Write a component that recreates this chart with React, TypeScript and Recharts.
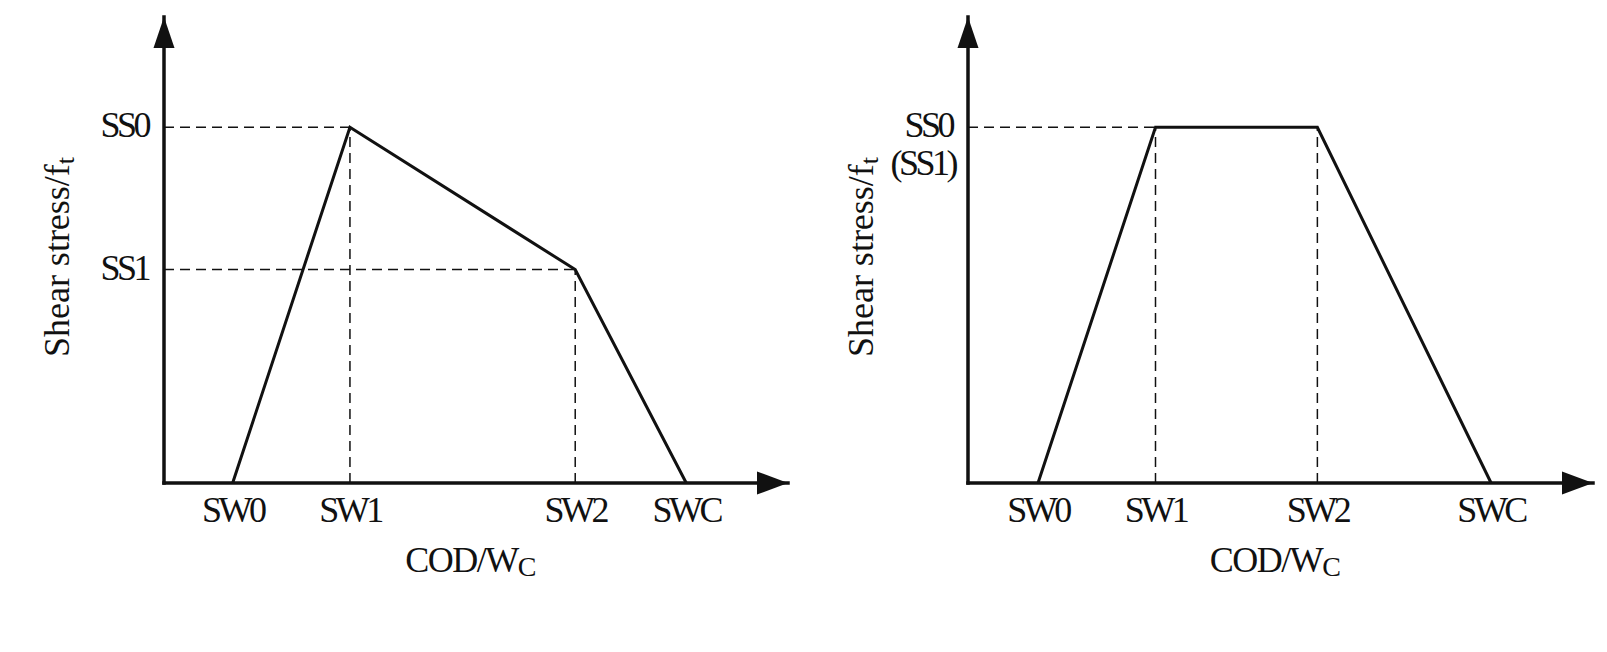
import React from "react";
import { LineChart, Line, XAxis, YAxis, ReferenceLine, ReferenceDot } from "recharts";

// Traction-separation style shear laws, two variants side by side.
// x values in COD/Wc units (axis runs 0..X_MAX), y values in shear stress / ft.
const X_MAX = 10;
const Y_MAX = 1.31;

const SW_LABELS = ["SW0", "SW1", "SW2", "SWC"];

// left: bilinear softening after the peak
const LEFT_SW = [1.1, 2.98, 6.59, 8.37];
const LEFT_SS = [1.0, 0.6]; // SS0, SS1
const LEFT_SS_LABELS = [["SS0"], ["SS1"]];

// right: plateau, SS1 equals SS0
const RIGHT_SW = [1.12, 3.0, 5.59, 8.37];
const RIGHT_SS = [1.0, 1.0];
const RIGHT_SS_LABELS = [["SS0", "(SS1)"]];

const INK = "#111";
const FONT = "'Liberation Serif', 'Times New Roman', serif";
const AXIS_STYLE = { stroke: INK, strokeWidth: 3.5, strokeLinecap: "square" as const };

const XTick = (props: any) => {
  const { x, y, payload, values } = props;
  const i = values.indexOf(payload.value);
  return (
    <text x={x} y={y + 39} textAnchor="middle" fill={INK} fontSize={36} fontFamily={FONT} letterSpacing={-3.5}>
      {SW_LABELS[i]}
    </text>
  );
};

const YTick = (props: any) => {
  const { x, y, payload, values, labels } = props;
  const i = values.indexOf(payload.value);
  const lines: string[] = labels[i] || [];
  return (
    <g>
      {lines.map((s, k) => (
        <text
          key={s}
          x={x - (k === 0 ? 16 : 13)}
          y={y + 10 + k * 38}
          textAnchor="end"
          fill={INK}
          fontSize={36}
          fontFamily={FONT}
          letterSpacing={-3.5}
        >
          {s}
        </text>
      ))}
    </g>
  );
};

const XTitle = (props: any) => {
  const { viewBox } = props;
  const cx = viewBox.x + viewBox.width / 2 - 6;
  return (
    <text x={cx} y={viewBox.y + 89} textAnchor="middle" fill={INK} fontSize={36} fontFamily={FONT} letterSpacing={-1.5}>
      COD/W
      <tspan fontSize={28} dy={4}>C</tspan>
    </text>
  );
};

const YTitle = (props: any) => {
  const { viewBox, offset } = props;
  const x = viewBox.x + offset;
  const y = 257;
  return (
    <text x={x} y={y} transform={`rotate(-90, ${x}, ${y})`} textAnchor="middle" fill={INK} fontSize={36} fontFamily={FONT}>
      Shear stress/f
      <tspan fontSize={26} dy={5}>t</tspan>
    </text>
  );
};

const ArrowRight = (props: any) => {
  const { cx, cy } = props;
  return <path d={`M${cx},${cy} L${cx - 31},${cy - 11.5} L${cx - 31},${cy + 11.5} Z`} fill={INK} />;
};

const ArrowUp = (props: any) => {
  const { cx, cy } = props;
  return <path d={`M${cx},${cy} L${cx - 10.5},${cy + 31} L${cx + 10.5},${cy + 31} Z`} fill={INK} />;
};

interface PanelProps {
  left: number;
  width: number;
  marginLeft: number;
  marginRight: number;
  sw: number[];
  ss: number[];
  ssTicks: number[];
  ssLabels: string[][];
  titleOffset: number;
}

function Panel({ left, width, marginLeft, marginRight, sw, ss, ssTicks, ssLabels, titleOffset }: PanelProps) {
  const data = [
    { x: sw[0], y: 0 },
    { x: sw[1], y: ss[0] },
    { x: sw[2], y: ss[1] },
    { x: sw[3], y: 0 },
  ];
  const dash = { stroke: INK, strokeWidth: 1.5, strokeDasharray: "10 6", ifOverflow: "visible" as const };
  return (
    <div style={{ position: "absolute", left, top: 0 }}>
      <LineChart width={width} height={652} data={data} margin={{ top: 17, right: marginRight, bottom: 139, left: marginLeft }}>
        <XAxis
          type="number"
          dataKey="x"
          domain={[0, X_MAX]}
          ticks={sw}
          interval={0}
          tickSize={0}
          tickMargin={0}
          tickLine={false}
          axisLine={AXIS_STYLE}
          height={30}
          tick={<XTick values={sw} />}
          label={<XTitle />}
        />
        <YAxis
          type="number"
          domain={[0, Y_MAX]}
          ticks={ssTicks}
          interval={0}
          tickSize={0}
          tickMargin={0}
          tickLine={false}
          axisLine={AXIS_STYLE}
          width={100}
          tick={<YTick values={ssTicks} labels={ssLabels} />}
          label={<YTitle offset={titleOffset} />}
        />
        <ReferenceLine segment={[{ x: 0, y: ss[0] }, { x: sw[1], y: ss[0] }]} {...dash} />
        <ReferenceLine segment={[{ x: sw[1], y: 0 }, { x: sw[1], y: ss[0] }]} {...dash} />
        {ss[1] !== ss[0] && <ReferenceLine segment={[{ x: 0, y: ss[1] }, { x: sw[2], y: ss[1] }]} {...dash} />}
        <ReferenceLine segment={[{ x: sw[2], y: 0 }, { x: sw[2], y: ss[1] }]} {...dash} />
        <Line
          type="linear"
          dataKey="y"
          stroke={INK}
          strokeWidth={3}
          strokeLinejoin="miter"
          dot={false}
          activeDot={false}
          isAnimationActive={false}
        />
        <ReferenceDot x={X_MAX} y={0} r={0} ifOverflow="visible" shape={<ArrowRight />} />
        <ReferenceDot x={0} y={Y_MAX} r={0} ifOverflow="visible" shape={<ArrowUp />} />
      </LineChart>
    </div>
  );
}

export default function App() {
  return (
    <div style={{ position: "absolute", left: 0, top: 0, width: 1607, height: 652, background: "#fff" }}>
      <Panel
        left={0}
        width={800}
        marginLeft={64}
        marginRight={12}
        sw={LEFT_SW}
        ss={LEFT_SS}
        ssTicks={LEFT_SS}
        ssLabels={LEFT_SS_LABELS}
        titleOffset={-1}
      />
      <Panel
        left={800}
        width={807}
        marginLeft={68}
        marginRight={14}
        sw={RIGHT_SW}
        ss={RIGHT_SS}
        ssTicks={[RIGHT_SS[0]]}
        ssLabels={RIGHT_SS_LABELS}
        titleOffset={-25}
      />
    </div>
  );
}
